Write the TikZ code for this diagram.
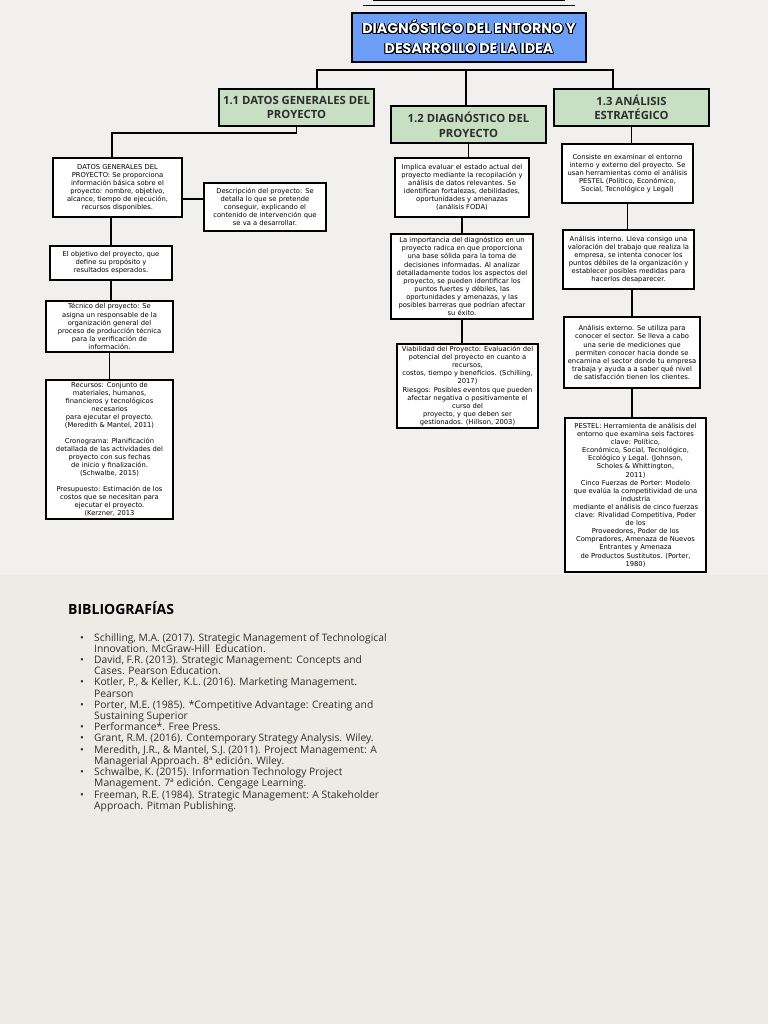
\documentclass[tikz,border=0pt]{standalone}
\usepackage{fontspec}
\usepackage{contour}
\newfontfamily\dejavu{DejaVu Sans}
\newfontfamily\opensans{Open Sans}
\newfontfamily\poppins{Poppins}
\contourlength{0.9pt}
\definecolor{paper}{HTML}{ECEBE6}
\definecolor{paperlight}{HTML}{F1F0EE}
\definecolor{titleblue}{HTML}{6D9EF6}
\definecolor{headgreen}{HTML}{C8DFC4}
\definecolor{inktext}{HTML}{2E2E2E}
\begin{document}
\begin{tikzpicture}[x=1pt,y=-1pt,
  box/.style={draw, fill=white, line width=2pt, align=center, inner sep=1pt,
    font=\dejavu\fontsize{6.75}{8.1}\selectfont},
  head/.style={draw, fill=headgreen, line width=2pt, align=center,
    text=inktext, font=\opensans\bfseries\fontsize{11.3}{14.5}\selectfont,
    minimum width=155, minimum height=37},
  link/.style={line width=1.5pt}]
% page
\fill[paper] (0,0) rectangle (768,1024);
\fill[paperlight] (0,0) rectangle (768,575);
\useasboundingbox (0,0) rectangle (768,1024);
\draw[line width=1pt] (373,1) -- (565,1);
\draw[line width=1pt] (363,6) -- (575,6);

% title
\node[draw, fill=titleblue, line width=2pt, align=center, text=white,
  minimum width=234, minimum height=49,
  font=\poppins\bfseries\fontsize{14.2}{20}\selectfont] (t) at (469,37.5)
  {\contour{black}{DIAGNÓSTICO DEL ENTORNO Y}\\\contour{black}{DESARROLLO DE LA IDEA}};

% headers
\node[head] (h1) at (296.5,107.5) {1.1 DATOS GENERALES DEL\\PROYECTO};
\node[head] (h2) at (468.5,125) {1.2 DIAGNÓSTICO DEL\\PROYECTO};
\node[head] (h3) at (631.5,107.5) {1.3 ANÁLISIS\\ESTRATÉGICO};

\coordinate (bl) at (317,70);
\coordinate (bm) at (466,70);
\coordinate (br) at (613,70);
\coordinate (k1) at (112,133);
\draw[link] (h1.north -| bl) -- (bl) -- (br) -- (h3.north -| br);
\draw[link] (bm) -- (h2.north -| bm);

% 1.1
\node[box, minimum width=129, minimum height=59] (a1) at (117.5,187.5)
  {DATOS GENERALES DEL\\PROYECTO: Se proporciona\\información básica sobre el\\proyecto: nombre, objetivo,\\alcance, tiempo de ejecución,\\recursos disponibles.};
\node[box, minimum width=122, minimum height=48] (d1) at (265,207)
  {Descripción del proyecto: Se\\detalla lo que se pretende\\conseguir, explicando el\\contenido de intervención que\\se va a desarrollar.};
\node[box, minimum width=122, minimum height=34] (b1) at (111,263)
  {El objetivo del proyecto, que\\define su propósito y\\resultados esperados.};
\node[box, minimum width=127, minimum height=51] (c1) at (109.5,326.5)
  {Técnico del proyecto: Se\\asigna un responsable de la\\organización general del\\proceso de producción técnica\\para la verificación de\\información.};
\node[box, minimum width=127, minimum height=139] (e1) at (109.5,449.5)
  {Recursos: Conjunto de\\materiales, humanos,\\financieros y tecnológicos\\necesarios\\para ejecutar el proyecto.\\(Meredith \& Mantel, 2011)\\[7.6pt]
   Cronograma: Planificación\\detallada de las actividades del\\proyecto con sus fechas\\de inicio y finalización.\\(Schwalbe, 2015)\\[7.6pt]
   Presupuesto: Estimación de los\\costos que se necesitan para\\ejecutar el proyecto.\\(Kerzner, 2013};

\draw[link] (h1.south) |- (k1) -- (a1.north -| k1);
\draw[link] ([yshift=-11.5pt]a1.east) -- ([yshift=-11.5pt]a1.east -| d1.west);
\draw[link] (a1.south -| b1.north) -- (b1.north);
\draw[link] (b1.south) -- (b1.south |- c1.north);
\draw[link] (c1.south) -- (e1.north);

% 1.2
\node[box, minimum width=134, minimum height=59] (m1) at (462,187.5)
  {Implica evaluar el estado actual del\\proyecto mediante la recopilación y\\análisis de datos relevantes. Se\\identifican fortalezas, debilidades,\\oportunidades y amenazas\\(análisis FODA)};
\node[box, minimum width=142, minimum height=85] (m2) at (462,276.5)
  {La importancia del diagnóstico en un\\proyecto radica en que proporciona\\una base sólida para la toma de\\decisiones informadas. Al analizar\\detalladamente todos los aspectos del\\proyecto, se pueden identificar los\\puntos fuertes y débiles, las\\oportunidades y amenazas, y las\\posibles barreras que podrían afectar\\su éxito.};
\node[box, minimum width=141, minimum height=84] (m3) at (467.5,386)
  {Viabilidad del Proyecto: Evaluación del\\potencial del proyecto en cuanto a\\recursos,\\costos, tiempo y beneficios. (Schilling,\\2017)\\Riesgos: Posibles eventos que pueden\\afectar negativa o positivamente el\\curso del\\proyecto, y que deben ser\\gestionados. (Hillson, 2003)};

\draw[link] (h2.south) -- (h2.south |- m1.north);
\draw[link] (m1.south) -- (m2.north);
\draw[link] (m2.south) -- (m2.south |- m3.north);

% 1.3
\node[box, minimum width=131, minimum height=59] (r1) at (627.5,173.5)
  {Consiste en examinar el entorno\\interno y externo del proyecto. Se\\usan herramientas como el análisis\\PESTEL (Político, Económico,\\Social, Tecnológico y Legal)};
\node[box, minimum width=131, minimum height=59] (r2) at (628.5,259.5)
  {Análisis interno. Lleva consigo una\\valoración del trabajo que realiza la\\empresa, se intenta conocer los\\puntos débiles de la organización y\\establecer posibles medidas para\\hacerlos desaparecer.};
\node[box, minimum width=136, minimum height=71] (r3) at (632,352.5)
  {Análisis externo. Se utiliza para\\conocer el sector. Se lleva a cabo\\una serie de mediciones que\\permiten conocer hacia donde se\\encamina el sector donde tu empresa\\trabaja y ayuda a a saber qué nivel\\de satisfacción tienen los clientes.};
\node[box, minimum width=141, minimum height=154] (r4) at (635.5,495)
  {PESTEL: Herramienta de análisis del\\entorno que examina seis factores\\clave: Político,\\Económico, Social, Tecnológico,\\Ecológico y Legal. (Johnson,\\Scholes \& Whittington,\\2011)\\Cinco Fuerzas de Porter: Modelo\\que evalúa la competitividad de una\\industria\\mediante el análisis de cinco fuerzas\\clave: Rivalidad Competitiva, Poder\\de los\\Proveedores, Poder de los\\Compradores, Amenaza de Nuevos\\Entrantes y Amenaza\\de Productos Sustitutos. (Porter,\\1980)};

\draw[link] (h3.south) -- (h3.south |- r1.north);
\draw[link] (r1.south) -- (r1.south |- r2.north);
\draw[link] (r3.north) -- (r3.north |- r2.south);
\draw[link] (r3.south) -- (r3.south |- r4.north);

% bibliography
\node[anchor=west, inner sep=0, text=black,
  font=\opensans\bfseries\fontsize{14}{16}\selectfont] (bib) at (68,608) {BIBLIOGRAFÍAS};
\node[anchor=north west, inner sep=0, align=left, text=inktext,
  font=\opensans\fontsize{10.3}{11.2}\selectfont] (refs) at (80,633)
  {\begin{tabular}{@{}l@{}l@{}}
   \makebox[14pt][l]{\textbullet} & Schilling, M.A. (2017). Strategic Management of Technological\\
   & Innovation. McGraw-Hill\ \ Education.\\
   \makebox[14pt][l]{\textbullet} & David, F.R. (2013). Strategic Management: Concepts and\\
   & Cases. Pearson Education.\\
   \makebox[14pt][l]{\textbullet} & Kotler, P., \& Keller, K.L. (2016). Marketing Management.\\
   & Pearson\\
   \makebox[14pt][l]{\textbullet} & Porter, M.E. (1985). *Competitive Advantage: Creating and\\
   & Sustaining Superior\\
   \makebox[14pt][l]{\textbullet} & Performance*. Free Press.\\
   \makebox[14pt][l]{\textbullet} & Grant, R.M. (2016). Contemporary Strategy Analysis. Wiley.\\
   \makebox[14pt][l]{\textbullet} & Meredith, J.R., \& Mantel, S.J. (2011). Project Management: A\\
   & Managerial Approach. 8ª edición. Wiley.\\
   \makebox[14pt][l]{\textbullet} & Schwalbe, K. (2015). Information Technology Project\\
   & Management. 7ª edición. Cengage Learning.\\
   \makebox[14pt][l]{\textbullet} & Freeman, R.E. (1984). Strategic Management: A Stakeholder\\
   & Approach. Pitman Publishing.
  \end{tabular}};
\end{tikzpicture}
\end{document}
